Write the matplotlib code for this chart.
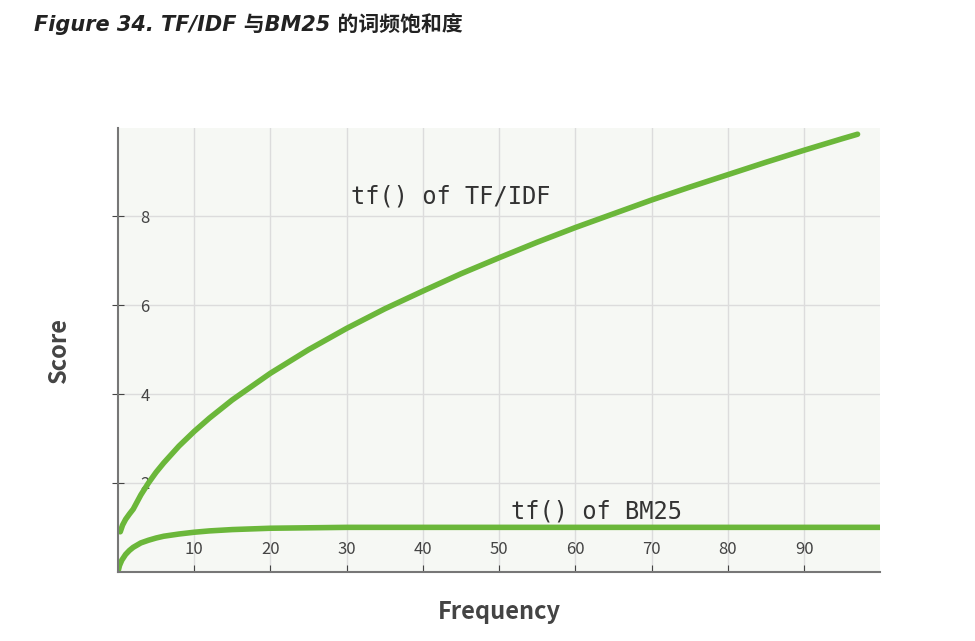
import matplotlib.pyplot as plt

plt.rcParams["font.family"] = ["Noto Sans CJK SC", "DejaVu Sans"]

tfidf_freq = [0.3, 0.6, 1, 1.5, 2, 3, 4, 5, 6, 8, 10, 12, 15, 20, 25, 30, 35, 40, 45, 50, 55, 60, 65, 70, 75, 80, 85, 90, 95, 97]
tfidf_score = [0.9, 1.05, 1.18, 1.3, 1.41, 1.73, 2.0, 2.24, 2.45, 2.83, 3.16, 3.46, 3.87, 4.47, 5.0, 5.48,
               5.92, 6.32, 6.71, 7.07, 7.42, 7.75, 8.06, 8.37, 8.66, 8.94, 9.22, 9.49, 9.75, 9.85]
bm25_freq = [0, 0.2, 0.5, 1, 1.5, 2, 3, 4, 5, 6, 8, 10, 12, 15, 20, 25, 30, 50, 100]
bm25_score = [0, 0.14, 0.26, 0.39, 0.48, 0.55, 0.65, 0.71, 0.76, 0.8, 0.85, 0.89, 0.92, 0.95, 0.98, 0.99, 1.0, 1.0, 1.0]
x_ticks = [10, 20, 30, 40, 50, 60, 70, 80, 90]
y_ticks = [2, 4, 6, 8]

fig = plt.figure(figsize=(9.75, 6.41), dpi=100)
ax = fig.add_axes([0.121, 0.108, 0.782, 0.693])
ax.set_facecolor("#f6f8f4")
green = "#6bb73a"
ax.plot(tfidf_freq, tfidf_score, color=green, linewidth=4, solid_capstyle="round")
ax.plot(bm25_freq, bm25_score, color=green, linewidth=4, solid_capstyle="round")
ax.set_xlim(0, 100)
ax.set_ylim(0, 10)
ax.set_xticks(x_ticks)
ax.set_yticks(y_ticks)
ax.grid(True, color="#dcdcdc", linewidth=1)
for s in ["top", "right"]:
    ax.spines[s].set_visible(False)
for s in ["left", "bottom"]:
    ax.spines[s].set_color("#777777")
    ax.spines[s].set_linewidth(1.5)
ax.tick_params(axis="x", direction="in", pad=-22, length=5, colors="#444444", labelsize=12)
ax.tick_params(axis="y", direction="inout", pad=-20, length=8, colors="#444444", labelsize=12)
for lbl in ax.get_xticklabels() + ax.get_yticklabels():
    lbl.set_fontweight("medium")
for lbl in ax.get_yticklabels():
    lbl.set_horizontalalignment("left")
ax.text(30.5, 8.3, "tf() of TF/IDF", family="DejaVu Sans Mono", fontsize=17, color="#333333")
ax.text(51.5, 1.2, "tf() of BM25", family="DejaVu Sans Mono", fontsize=17, color="#333333")
ax.set_xlabel("Frequency", fontsize=17, fontweight="bold", color="#444444", labelpad=20)
ax.set_ylabel("Score", fontsize=17, fontweight="bold", color="#444444", labelpad=30)
fig.text(0.035, 0.962, "Figure 34. TF/IDF 与BM25 的词频饱和度", fontsize=15, fontweight="bold",
         style="italic", family=["DejaVu Sans", "Noto Sans CJK SC"], color="#222222", va="center")
fig.savefig("out.png", dpi=100, facecolor="white")
